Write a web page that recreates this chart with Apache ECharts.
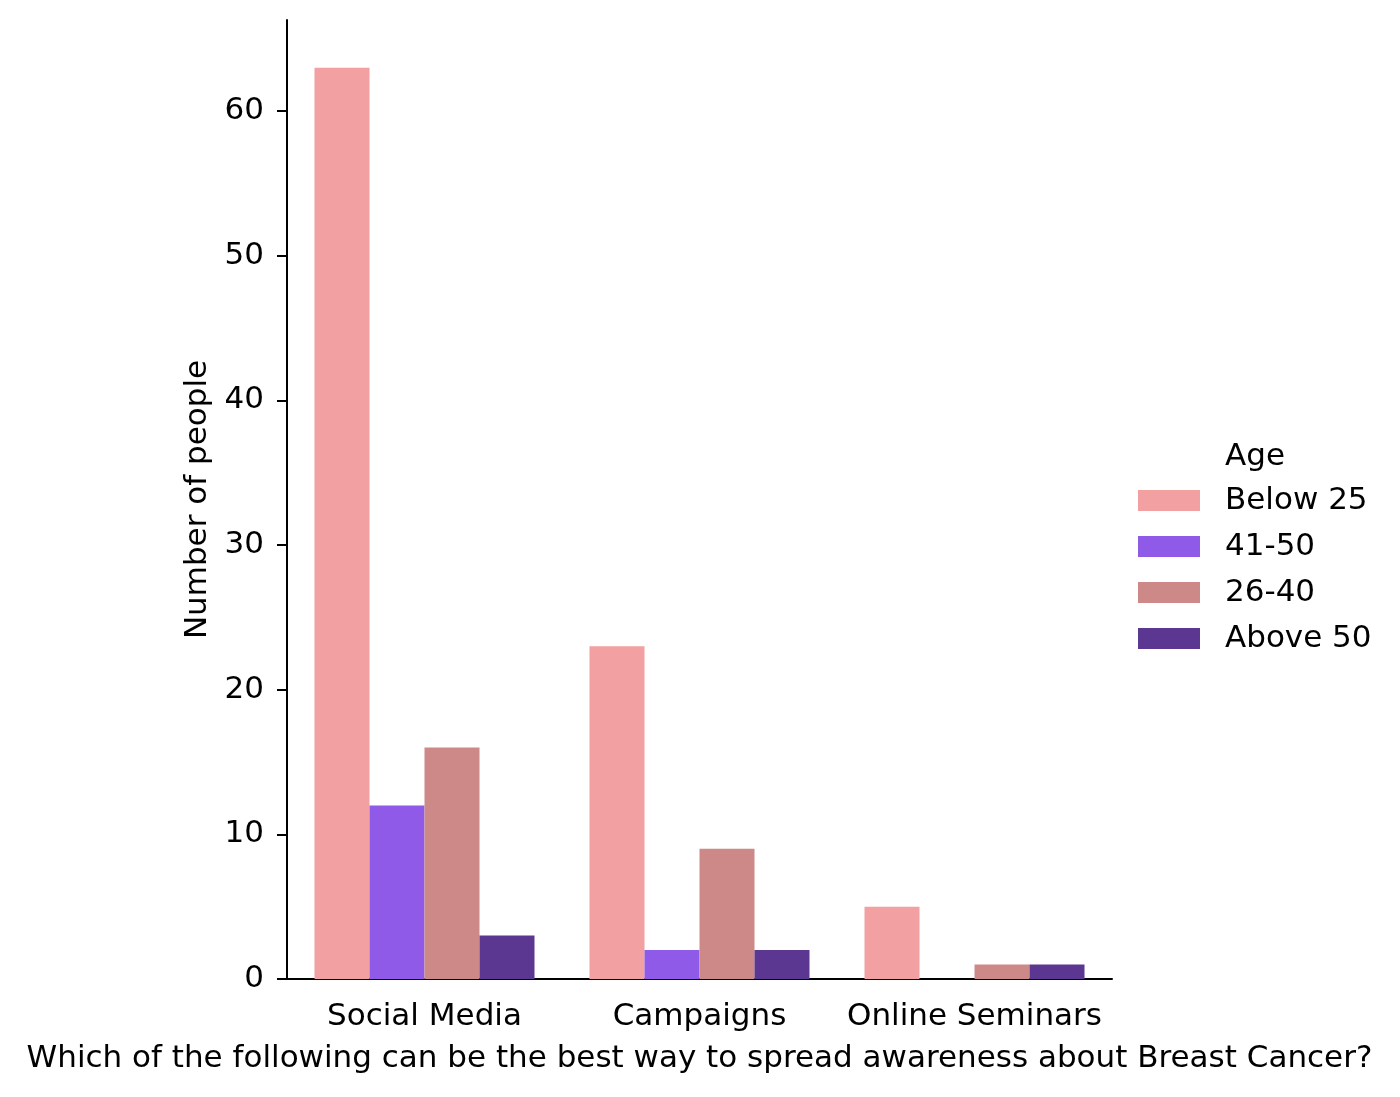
<!DOCTYPE html>
<html>
<head>
<meta charset="utf-8">
<script src="https://cdn.jsdelivr.net/npm/echarts@6/dist/echarts.min.js"></script>
<style>html,body{margin:0;padding:0;background:#fff;}#c{width:1400px;height:1097px;}</style>
</head>
<body>
<div id="c"></div>
<script>
const categories = ['Social Media', 'Campaigns', 'Online Seminars'];
const seriesNames = ['Below 25', '41-50', '26-40', 'Above 50'];
const below25 = [63, 23, 5];
const age41to50 = [12, 2, 0];
const age26to40 = [16, 9, 1];
const above50 = [3, 2, 1];
const yTicks = [0, 10, 20, 30, 40, 50, 60];
const colors = ['#F2A0A1', '#8F5AE8', '#CD8987', '#5C3792'];
const values = [below25, age41to50, age26to40, above50];

const FONT = 'DejaVu Sans';
const FS = 31;
const chart = echarts.init(document.getElementById('c'));
chart.setOption({
  animation: false,
  backgroundColor: '#fff',
  textStyle: {fontFamily: FONT},
  grid: {left: 287, right: 288, top: 20, bottom: 118, containLabel: false},
  title: {
    text: 'Age', left: 1225, top: 441,
    textStyle: {fontFamily: FONT, fontSize: FS, fontWeight: 'normal', color: '#000'},
    padding: 0
  },
  legend: {
    orient: 'vertical', left: 1138, top: 485,
    itemWidth: 62, itemHeight: 21, itemGap: 15,
    icon: 'rect',
    data: seriesNames,
    textStyle: {fontFamily: FONT, fontSize: FS, color: '#000', padding: [0, 0, 0, 20], lineHeight: 31},
    padding: 0
  },
  xAxis: {
    type: 'category', data: categories,
    name: 'Which of the following can be the best way to spread awareness about Breast Cancer?',
    nameLocation: 'middle', nameGap: 64,
    nameTextStyle: {fontFamily: FONT, fontSize: FS, color: '#000'},
    axisLine: {lineStyle: {color: '#000', width: 2}},
    axisTick: {alignWithLabel: true, length: 10, lineStyle: {color: '#000', width: 2}},
    axisLabel: {fontFamily: FONT, fontSize: FS, color: '#000', margin: 22, interval: 0}
  },
  yAxis: {
    type: 'value', min: 0, max: 66.3,
    name: 'Number of people', nameLocation: 'middle', nameGap: 74, nameRotate: 90,
    nameTextStyle: {fontFamily: FONT, fontSize: FS, color: '#000'},
    splitLine: {show: false},
    axisLine: {show: true, lineStyle: {color: '#000', width: 2}},
    axisTick: {show: true, length: 10, customValues: yTicks, lineStyle: {color: '#000', width: 2}},
    axisLabel: {fontFamily: FONT, fontSize: FS, color: '#000', margin: 23, customValues: yTicks}
  },
  series: seriesNames.map((n, i) => ({
    name: n, type: 'bar', data: values[i],
    barGap: '0%', barCategoryGap: '20%',
    itemStyle: {color: colors[i]}
  }))
});
</script>
</body>
</html>
